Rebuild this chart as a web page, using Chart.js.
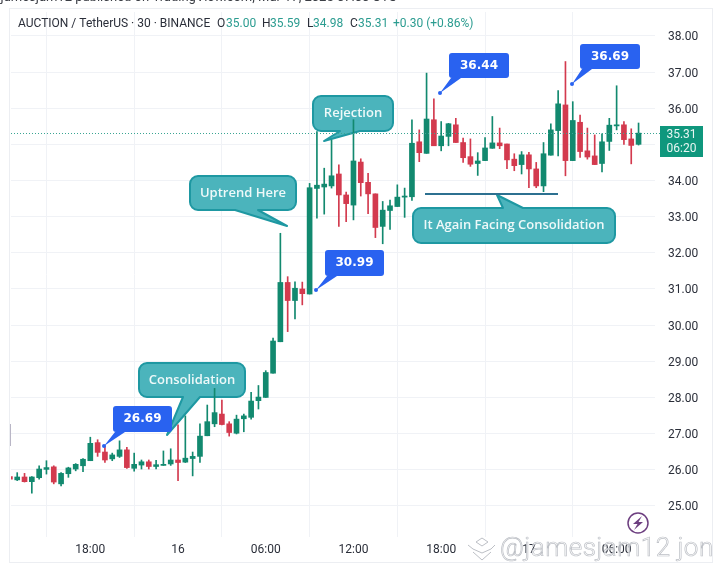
<!DOCTYPE html>
<html>
<head>
<meta charset="utf-8">
<title>AUCTION / TetherUS</title>
<script src="https://cdn.jsdelivr.net/npm/chart.js@4"></script>
<style>
  html, body { margin: 0; padding: 0; background: #fff; }
  #wrap { position: relative; width: 723px; height: 570px; overflow: hidden; }
  #frame { position: absolute; left: 9px; top: 8px; width: 704px; height: 555px; border: 1px solid #eceef2; box-sizing: border-box; }
  canvas { position: absolute; left: 0; top: 0; }
</style>
</head>
<body>
<div id="wrap">
  <div id="frame"></div>
  <canvas id="grafico" width="723" height="570"></canvas>
</div>
<script>
// 30 min candles, first bar is cut by the left edge
const opens = [
  25.81, 25.72, 25.80, 25.67, 25.78, 26.01, 26.08, 25.61, 25.89, 26.02,
  26.11, 26.25, 26.75, 26.49, 26.30, 26.37, 26.55, 26.04, 26.13, 26.22,
  26.09, 26.12, 26.16, 26.27, 26.21, 26.31, 26.37, 26.94, 27.27, 27.54,
  27.27, 27.01, 27.41, 27.45, 27.91, 28.00, 28.67, 29.54, 31.18, 30.68,
  31.00, 30.86, 33.78, 33.82, 33.85, 34.18, 33.60, 33.32, 34.51, 33.95,
  33.63, 32.73, 33.17, 33.28, 33.54, 33.55, 35.07, 34.75, 35.68, 34.96,
  35.22, 35.54, 35.05, 34.66, 34.47, 34.55, 34.89, 35.04, 35.01, 34.59,
  34.44, 34.71, 34.32, 33.85, 34.70, 35.38, 36.09, 34.55, 35.61, 34.82,
  34.68, 34.47, 35.08, 35.51, 35.54, 35.15, 35.00
]
const highs = [
  25.82, 25.92, 25.90, 25.81, 26.11, 26.25, 26.11, 25.92, 26.07, 26.17,
  26.31, 26.90, 26.83, 26.66, 26.46, 26.80, 26.62, 26.46, 26.27, 26.27,
  26.26, 26.52, 26.58, 27.24, 27.49, 26.49, 27.27, 27.79, 28.25, 27.93,
  27.33, 27.51, 27.54, 28.14, 28.33, 28.74, 29.64, 32.54, 31.34, 31.20,
  31.19, 33.92, 35.35, 34.34, 35.12, 34.43, 33.68, 35.68, 34.60, 34.20,
  33.63, 33.42, 33.46, 33.88, 33.79, 35.68, 35.40, 36.97, 36.26, 35.63,
  35.58, 35.72, 35.17, 35.15, 34.77, 35.19, 35.77, 35.45, 35.01, 34.74,
  34.80, 34.78, 34.50, 35.05, 35.57, 36.49, 37.29, 36.18, 35.81, 35.45,
  35.26, 35.29, 35.72, 36.62, 35.63, 35.43, 35.59
]
const lows = [
  25.73, 25.70, 25.66, 25.35, 25.74, 25.88, 25.61, 25.55, 25.79, 25.97,
  25.95, 26.25, 26.37, 26.20, 26.25, 26.34, 26.04, 25.96, 26.02, 26.02,
  26.02, 26.12, 26.12, 25.70, 26.20, 25.83, 26.20, 26.94, 27.19, 27.24,
  26.93, 26.99, 27.05, 27.40, 27.68, 28.00, 28.67, 29.54, 29.82, 30.17,
  30.56, 30.86, 32.96, 33.07, 33.79, 32.73, 32.86, 32.91, 33.57, 33.08,
  32.42, 32.25, 32.65, 33.28, 32.98, 33.45, 34.52, 34.75, 34.96, 34.82,
  34.96, 35.05, 34.50, 34.39, 34.14, 34.55, 34.89, 34.88, 34.33, 34.27,
  34.18, 33.80, 33.80, 33.69, 34.70, 34.68, 34.13, 34.55, 34.64, 34.59,
  34.44, 34.24, 34.83, 35.40, 35.00, 34.46, 34.98
]
const closes = [
  25.74, 25.80, 25.67, 25.80, 26.02, 26.06, 25.66, 25.90, 26.05, 26.15,
  26.29, 26.73, 26.48, 26.27, 26.41, 26.55, 26.06, 26.15, 26.22, 26.09,
  26.14, 26.15, 26.27, 26.20, 26.32, 26.37, 26.93, 27.33, 27.58, 27.25,
  27.03, 27.40, 27.49, 27.90, 28.01, 28.69, 29.56, 31.18, 30.68, 31.02,
  30.87, 33.80, 33.87, 33.90, 34.13, 33.60, 33.36, 34.54, 33.94, 33.63,
  32.70, 33.18, 33.30, 33.54, 33.57, 35.03, 34.77, 35.70, 34.96, 35.23,
  35.57, 35.05, 34.63, 34.45, 34.54, 34.90, 35.04, 34.96, 34.57, 34.41,
  34.71, 34.32, 33.85, 34.74, 35.40, 36.12, 34.55, 35.66, 34.80, 34.65,
  34.44, 35.07, 35.53, 35.54, 35.13, 34.97, 35.31
]
const timeTickBars = [11, 23, 35, 47, 59, 71, 83]
const timeTickLabels = ['18:00', '16', '06:00', '12:00', '18:00', '17', '06:00']
const priceTicks = [25, 26, 27, 28, 29, 30, 31, 32, 33, 34, 35, 36, 37, 38]
const lastPrice = 35.31
const countdown = '06:20'

const UP = '#12896f'
const DOWN = '#d33a4e'
const FONT = 'Roboto, sans-serif'
const TEAL_FILL = '#4bb4bc'
const TEAL_EDGE = '#1e98a2'
const BLUE_FILL = '#2962f0'

// drawings on top of the chart, in canvas pixels like the trader placed them
const tealNotes = [
  { text: 'Consolidation', box: [139, 363, 106, 34], base: [183, 200], tip: [167, 435], side: 'bottom' },
  { text: 'Uptrend Here', box: [190, 176, 106, 34], base: [235, 258], tip: [287, 226], side: 'bottom' },
  { text: 'Rejection', box: [313, 96, 80, 35], base: [340, 360], tip: [324, 141], side: 'bottom' },
  { text: 'It Again Facing Consolidation', box: [413, 208, 202, 35], base: [503, 523], tip: [497, 195], side: 'top' }
]
const blueNotes = [
  { text: '26.69', box: [113, 406, 59, 26], base: [115, 125], tip: [104, 446], side: 'bottom' },
  { text: '30.99', box: [325, 250, 59, 26], base: [327, 337], tip: [316, 290], side: 'bottom' },
  { text: '36.44', box: [449, 53, 60, 25], base: [451, 461], tip: [440, 93], side: 'bottom' },
  { text: '36.69', box: [580, 44, 60, 25], base: [582, 592], tip: [572, 84], side: 'bottom' }
]

function notePath(ctx, n, r) {
  const [x, y, w, h] = n.box
  ctx.beginPath()
  ctx.moveTo(x + r, y)
  if (n.side === 'top') {
    ctx.lineTo(n.base[0], y)
    ctx.lineTo(n.tip[0], n.tip[1])
    ctx.lineTo(n.base[1], y)
  }
  ctx.arcTo(x + w, y, x + w, y + h, r)
  ctx.arcTo(x + w, y + h, x, y + h, r)
  if (n.side === 'bottom') {
    ctx.lineTo(n.base[1], y + h)
    ctx.lineTo(n.tip[0], n.tip[1])
    ctx.lineTo(n.base[0], y + h)
  }
  ctx.arcTo(x, y + h, x, y, r)
  ctx.arcTo(x, y, x + w, y, r)
  ctx.closePath()
}

const notasPlugin = {
  id: 'notas',
  // wicks run over the callouts in the picture, so these go under the bars
  beforeDatasetsDraw(chart) {
    const ctx = chart.ctx
    ctx.save()
    ctx.lineJoin = 'round'
    tealNotes.forEach((n) => {
      notePath(ctx, n, 8)
      ctx.fillStyle = TEAL_FILL
      ctx.strokeStyle = TEAL_EDGE
      ctx.lineWidth = 2
      ctx.fill()
      ctx.stroke()
      ctx.fillStyle = '#eef9f9'
      ctx.font = '600 13px "Open Sans", sans-serif'
      ctx.textAlign = 'center'
      ctx.textBaseline = 'middle'
      ctx.fillText(n.text, n.box[0] + n.box[2] / 2, n.box[1] + n.box[3] / 2)
    })
    ctx.strokeStyle = '#2c7090'
    ctx.lineWidth = 2
    ctx.beginPath()
    ctx.moveTo(425, 194)
    ctx.lineTo(558, 194)
    ctx.stroke()
    ctx.restore()
  },
  afterDatasetsDraw(chart) {
    const ctx = chart.ctx
    const yPrice = chart.scales.y.getPixelForValue(lastPrice)
    ctx.save()

    // dotted last price line and its label
    ctx.strokeStyle = '#3aa593'
    ctx.lineWidth = 1
    ctx.setLineDash([1, 2])
    ctx.beginPath()
    ctx.moveTo(chart.chartArea.left, Math.round(yPrice) + 0.5)
    ctx.lineTo(660, Math.round(yPrice) + 0.5)
    ctx.stroke()
    ctx.setLineDash([])
    ctx.fillStyle = '#0f977d'
    ctx.fillRect(660, 126, 43, 31)
    ctx.fillStyle = '#e8f6f3'
    ctx.font = '12px ' + FONT
    ctx.textAlign = 'center'
    ctx.textBaseline = 'middle'
    ctx.fillText(lastPrice.toFixed(2), 681.5, 134.5)
    ctx.fillText(countdown, 681.5, 148.5)

    // blue price labels
    blueNotes.forEach((n) => {
      notePath(ctx, n, 3)
      ctx.fillStyle = BLUE_FILL
      ctx.fill()
      ctx.beginPath()
      ctx.arc(n.tip[0], n.tip[1], 2, 0, Math.PI * 2)
      ctx.fill()
      ctx.fillStyle = '#fff'
      ctx.font = 'bold 12px "DejaVu Sans", sans-serif'
      ctx.textAlign = 'center'
      ctx.textBaseline = 'middle'
      ctx.fillText(n.text, n.box[0] + n.box[2] / 2, n.box[1] + n.box[3] / 2)
    })

    // byline, the crop of the screenshot leaves only its lower edge
    ctx.textAlign = 'right'
    ctx.textBaseline = 'alphabetic'
    ctx.font = '13px ' + FONT
    ctx.fillStyle = '#3c3f46'
    ctx.fillText('jamesjam12 published on TradingView.com, Mar 17, 2025 07:00 UTC', 397, 1)

    // legend row
    ctx.textAlign = 'left'
    ctx.textBaseline = 'middle'
    ctx.font = '12px ' + FONT
    ctx.fillStyle = '#2a2e39'
    const legendLetters = [['AUCTION / TetherUS · 30 · BINANCE', 18], ['O', 217], ['H', 262], ['L', 307], ['C', 350]]
    legendLetters.forEach(([t, x]) => ctx.fillText(t, x, 24))
    const legendValues = [['35.00', 226], ['35.59', 270], ['34.98', 313], ['35.31', 358], ['+0.30 (+0.86%)', 393]]
    ctx.fillStyle = '#2b9c90'
    legendValues.forEach(([t, x]) => ctx.fillText(t, x, 24))

    // small mark on the left edge
    ctx.fillStyle = '#b9b6c6'
    ctx.fillRect(10, 424, 1, 22)

    // bolt badge
    ctx.strokeStyle = '#6d3f80'
    ctx.lineWidth = 1.5
    ctx.beginPath()
    ctx.arc(638, 523, 10, 0, Math.PI * 2)
    ctx.stroke()
    ctx.fillStyle = '#6d3f80'
    ctx.beginPath()
    ctx.moveTo(642, 516)
    ctx.lineTo(633, 524)
    ctx.lineTo(637.5, 524)
    ctx.lineTo(634, 530)
    ctx.lineTo(643, 522)
    ctx.lineTo(638.5, 522)
    ctx.closePath()
    ctx.fill()

    // author watermark
    ctx.strokeStyle = '#bcbfc5'
    ctx.lineWidth = 1
    const chevrons = [[[476, 542], [482, 538], [488, 542], [482, 546], [476, 542]], [[468, 545], [473, 549], [482, 553], [491, 549], [495, 545]], [[473, 552], [482, 560], [491, 552]]]
    chevrons.forEach((pts) => {
      ctx.beginPath()
      pts.forEach(([x, y], i) => (i ? ctx.lineTo(x, y) : ctx.moveTo(x, y)))
      ctx.stroke()
    })
    ctx.font = '300 26px ' + FONT
    ctx.letterSpacing = '0.5px'
    ctx.textBaseline = 'alphabetic'
    ctx.fillStyle = 'rgba(255,255,255,0.7)'
    ctx.fillText('@jamesjam12 jon', 500, 556)
    ctx.lineWidth = 0.7
    ctx.strokeText('@jamesjam12 jon', 500, 556)
    ctx.letterSpacing = '0px'

    ctx.restore()
  }
}

const barIndex = opens.map((_, i) => i)
const barColors = barIndex.map((i) => (closes[i] >= opens[i] ? UP : DOWN))

new Chart(document.getElementById('grafico'), {
  type: 'bar',
  data: {
    datasets: [
      {
        label: 'Body',
        data: barIndex.map((i) => ({ x: i, y: [opens[i], closes[i]] })),
        backgroundColor: barColors,
        barThickness: 5,
        minBarLength: 1,
        grouped: false,
        order: 1
      },
      {
        label: 'Wick',
        data: barIndex.map((i) => ({ x: i, y: [lows[i], highs[i]] })),
        backgroundColor: barColors,
        barThickness: 1,
        grouped: false,
        order: 2
      }
    ]
  },
  options: {
    responsive: false,
    animation: false,
    layout: { padding: { left: 11, right: 8, top: 12, bottom: 8 } },
    plugins: {
      legend: { display: false },
      title: { display: false },
      tooltip: { enabled: false }
    },
    scales: {
      x: {
        type: 'linear',
        offset: false,
        min: 0.15,
        max: 88.25,
        afterBuildTicks: (axis) => {
          axis.ticks = timeTickBars.map((v) => ({ value: v }))
        },
        afterFit: (axis) => {
          axis.height = 25
        },
        grid: { color: '#f0f2f6', drawTicks: false },
        border: { display: false },
        ticks: {
          autoSkip: false,
          maxRotation: 0,
          padding: 6,
          color: '#2a2e39',
          font: { family: FONT, size: 12 },
          callback: (v) => timeTickLabels[timeTickBars.indexOf(v)]
        }
      },
      y: {
        position: 'right',
        min: 24.14,
        max: 38.66,
        afterBuildTicks: (axis) => {
          axis.ticks = priceTicks.map((v) => ({ value: v }))
        },
        afterFit: (axis) => {
          axis.width = 60
        },
        // tick padding also pushes the plot top down, so the gap is a hidden tick mark
        grid: { color: '#f0f2f6', tickColor: 'rgba(0,0,0,0)', tickLength: 13 },
        border: { display: false },
        ticks: {
          padding: 0,
          labelOffset: 1.5,
          color: '#2a2e39',
          font: { family: FONT, size: 12 },
          callback: (v) => v.toFixed(2)
        }
      }
    }
  },
  plugins: [notasPlugin]
})
</script>
</body>
</html>
